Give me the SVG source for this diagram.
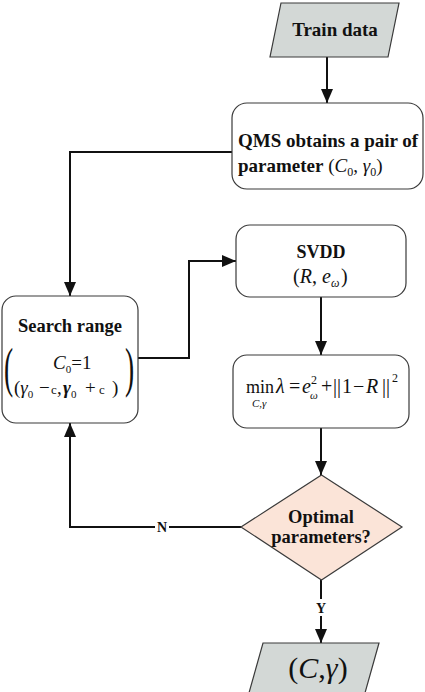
<svg xmlns="http://www.w3.org/2000/svg" width="425" height="692" viewBox="0 0 425 692">
<style>
  .box { fill: #ffffff; stroke: #3a3a3a; stroke-width: 1.2; }
  .io { fill: #d3d8d6; stroke: #3a3a3a; stroke-width: 1.2; }
  .dec { fill: #fbe4d8; stroke: #3a3a3a; stroke-width: 1.2; }
  .conn { fill: none; stroke: #111111; stroke-width: 2; }
  text { font-family: "Liberation Serif", "Times New Roman", serif; fill: #111111; }
  .b { font-weight: bold; }
  .i { font-style: italic; }
  .lbl { font-weight: bold; font-size: 14px; }
</style>
<defs>
  <marker id="arr" markerUnits="userSpaceOnUse" markerWidth="14" markerHeight="12" refX="14" refY="6" orient="auto">
    <path d="M0,0 L14,6 L0,12 z" fill="#111111"/>
  </marker>
</defs>

<g id="connectors">
  <path class="conn" d="M327,57 V103" marker-end="url(#arr)"/>
  <path class="conn" d="M232,152 H70 V296" marker-end="url(#arr)"/>
  <path class="conn" d="M138,358 H189 V261 H236" marker-end="url(#arr)"/>
  <path class="conn" d="M321,297 V355" marker-end="url(#arr)"/>
  <path class="conn" d="M321,428 V475" marker-end="url(#arr)"/>
  <path class="conn" d="M241,527 H169 M155,527 H70 V423" marker-end="url(#arr)"/>
  <path class="conn" d="M321,580 V599 M321,616 V643" marker-end="url(#arr)"/>
  <text class="lbl" x="162" y="532" text-anchor="middle">N</text>
  <text class="lbl" x="321" y="613" text-anchor="middle">Y</text>
</g>

<g id="train-data">
  <polygon class="io" points="281,3 399,3 388,57 270,57"/>
  <text class="b" x="335" y="36" font-size="19" text-anchor="middle">Train data</text>
</g>

<g id="qms">
  <rect class="box" x="232" y="103" width="191" height="86" rx="15"/>
  <text class="b" x="238" y="147" font-size="19">QMS obtains a pair of</text>
  <text x="238" y="172" font-size="19"><tspan class="b">parameter</tspan> (<tspan class="i">C</tspan><tspan font-size="12" dy="4">0</tspan><tspan dy="-4">, </tspan><tspan class="i">γ</tspan><tspan font-size="12" dy="4">0</tspan><tspan dy="-4">)</tspan></text>
</g>

<g id="search-range">
  <rect class="box" x="2" y="296" width="136" height="127" rx="14"/>
  <text class="b" x="70" y="332" font-size="18.5" text-anchor="middle">Search range</text>
  <text transform="translate(4,386) scale(0.5,1)" font-size="55">(</text>
  <text transform="translate(125,386) scale(0.5,1)" font-size="55">)</text>
  <text y="369" font-size="19"><tspan class="i" x="53">C</tspan><tspan font-size="11" dy="4">0</tspan><tspan dy="-4">=1</tspan></text>
  <text y="394" font-size="19"><tspan x="14">(</tspan><tspan class="i">γ</tspan><tspan font-size="11" dy="4">0</tspan><tspan dy="-4" x="39">−</tspan><tspan font-size="13" x="51">c</tspan><tspan x="57">,</tspan><tspan class="i b" x="63">γ</tspan><tspan font-size="11" dy="4">0</tspan><tspan dy="-4" x="85">+</tspan><tspan font-size="13" x="99">c</tspan><tspan x="112">)</tspan></text>
</g>

<g id="svdd">
  <rect class="box" x="236" y="225" width="170" height="72" rx="14"/>
  <text class="b" x="321" y="258" font-size="18" text-anchor="middle">SVDD</text>
  <text y="283" font-size="20"><tspan x="293">(</tspan><tspan class="i">R</tspan><tspan>,</tspan><tspan class="i" x="322">e</tspan><tspan class="i" font-size="12" dy="4">ω</tspan><tspan dy="-4" x="341">)</tspan></text>
</g>

<g id="objective">
  <rect class="box" x="233" y="355" width="176" height="73" rx="14"/>
  <text x="246" y="393" font-size="18">min</text>
  <text class="i" x="252" y="407" font-size="11">C,γ</text>
  <text class="i" x="276" y="393" font-size="20">λ</text>
  <text x="289" y="393" font-size="20">=</text>
  <text class="i" x="302" y="393" font-size="20">e</text>
  <text x="311" y="384" font-size="12">2</text>
  <text class="i" x="310" y="399" font-size="11">ω</text>
  <text x="321" y="393" font-size="20">+</text>
  <text x="333" y="393" font-size="20">||</text>
  <text x="342" y="393" font-size="20">1</text>
  <text x="353" y="393" font-size="20">−</text>
  <text class="i" x="366" y="393" font-size="20">R</text>
  <text x="382" y="393" font-size="20">||</text>
  <text x="392" y="382" font-size="12">2</text>
</g>

<g id="decision">
  <polygon class="dec" points="321.5,475 402,527 321.5,580 241,527"/>
  <text class="b" x="321" y="523" font-size="18.5" text-anchor="middle">Optimal</text>
  <text class="b" x="321" y="543" font-size="18.5" text-anchor="middle">parameters?</text>
</g>

<g id="output">
  <polygon class="io" points="263,643 379,643 363,700 247,700"/>
  <text x="318" y="678" font-size="30" text-anchor="middle">(<tspan class="i">C</tspan>,<tspan class="i">γ</tspan>)</text>
</g>
</svg>
